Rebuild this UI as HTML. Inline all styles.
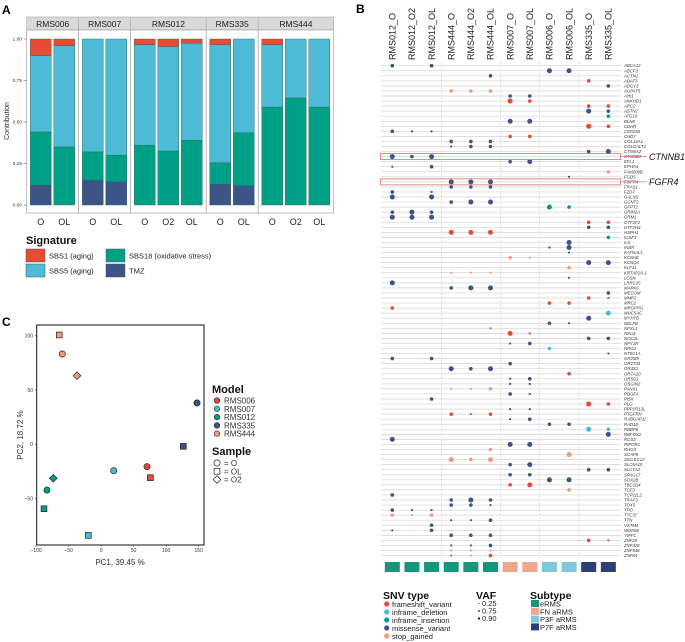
<!DOCTYPE html>
<html><head><meta charset="utf-8">
<style>
html,body{margin:0;padding:0;background:#fff;}
svg{display:block;font-family:"Liberation Sans",Arial,sans-serif;}
</style></head>
<body>
<svg id="fig" width="685" height="642" viewBox="0 0 685 642" xmlns="http://www.w3.org/2000/svg">
<text x="2" y="14" font-size="12" font-weight="bold">A</text>
<text x="356" y="13" font-size="12" font-weight="bold">B</text>
<text x="2" y="326" font-size="12" font-weight="bold">C</text>
<g id="pa"></g>
<g id="pb"></g>
<g id="pc"></g>
</svg>
<script>
// ---------- Panel A data ----------
const aModels=["RMS006","RMS007","RMS012","RMS335","RMS444"];
const aSamples=[["O","OL"],["O","OL"],["O","O2","OL"],["O","OL"],["O","O2","OL"]];
const aTMZ=[0.12,0,0.15,0.14,0,0,0,0.125,0.115,0,0,0];
const aSBS18=[0.32,0.35,0.17,0.16,0.36,0.325,0.39,0.13,0.32,0.59,0.645,0.59];
const aSBS5=[0.46,0.61,0.68,0.70,0.605,0.63,0.585,0.71,0.565,0.375,0.355,0.41];
const aSBS1=[0.10,0.04,0,0,0.035,0.045,0.025,0.035,0,0.035,0,0];
const aTicks=[0,0.25,0.5,0.75,1.0];
const aTickLabels=["0.00","0.25","0.50","0.75","1.00"];
// ---------- Panel B data ----------
const bSamples=["RMS012_O","RMS012_O2","RMS012_OL","RMS444_O","RMS444_O2","RMS444_OL","RMS007_O","RMS007_OL","RMS006_O","RMS006_OL","RMS335_O","RMS335_OL"];
const bSubtype=["e","e","e","e","e","e","fn","fn","p3","p3","p7","p7"];
const bGenes=["ABCA12","ABCF3","ACTN1","ADAT3","ADCY3","AGPAT5","AHI1","ANKHD1","ARC2","ASTN2","ATG10","BLNK","CDHR","CEP250","CHD7","COL14A1","COLGALT1","CTNNA2","CTNNB1","EFL1","EPHA4","FAM209B","FGD5","FGFR4","FRAS1","FZD7","GALNS","GCNT2","GFPT2","GRIN2A","GRM1","GTF2F2","GTF2H4","HSPH1","IGSF3","IL5","INSR","KATNAL1","KCNH8","KCNQ4","KLF11","KRTAP29-1","LGSN","LRRC25","MAPK6","MECOM","MMP2","MRC2","MRGPRG","MUC5AC","MYH7B","NELFB","NFXL1","NINJ1","NOC2L","NPY1R","NRG3","NT5C1A","OR2M5","OR2T34","OR4S1","OR7A10","OR5G1","OSGIN2","PANX1","PDGFA","PI5X","PLG","PPP1R13L","PTGFRN","RABGAP1L","RAD18","RBBP6","RBFOX2","RGS3","RIPOR1","RHG3","SCAP8","SIGLEC12","SLC6A15","SLC7A2","SPAG17","SOX2B","TBC1D4","TCF3","TCP11L2","TRAF3","TOX3","TPO","TTC37","TTN","VSTM4","WDR60","YIPF1","ZNF20","ZNF428","ZNF548","ZNF84"];
// per gene: "col type vaf" (type f/d/i/m/s, vaf 1=0.25,2=0.75,3=0.90)
const bCalls=["0m2 2m2","8m3 9m3","5m2","10f2","11m2","3s2 4s2 5s2","6m2 7m2","6f3 7f2","10f2 11f2","10m3 11m2","11i2","6m3 7m3","10f3 11f2","0m2 1m1 2m1","6f2 7f2","3m2 4m2 5m2","3m1 4m2 5m2","10m2 11m3","0m3 1m2 2m3","6m2 7m3","0m1 2m2","11s2","9m1","3m3 4m3 5m3","3m2 4m2 5m2","0m2 2m1","0m3 2m3","3m2 4m3 5m3","8i3 9i2","0m2 1m3 2m2","0m3 1m3 2m3","10f2 11f2","10m2 11m2","3f3 4f3 5f3","11i2","9m3","8m1 9m3","9m1","6s2 7s1","10m3 11m3","9s2","3s1 4s1 5s1","9m1","0m3","3m2 4m3 5m3","11m2","10f2 11f1","8f2 9f2","0f2","11d3","10m3","8m2 9m1","5f1","6f3 7f1","10m2 11m2","6m1 7m2","8d2","11m1","0m2 2m2","6m2","3m3 4m2 5m3","9f2","6m1 7m2","6m1 7m1","3s1 4s1 5s2","6m2 7m1","2m2","10f3 11f2","6m1 7m1","3f2 4f1 5f2","6m1 7m2","8m2 9m2","10d3 11d2","11m3","0m3","6m3 7m3","5s2","9s3","3s3 4s2 5s3","6m2 7m3","10m2 11m2","6m2 7m2","8m3 9m3","6f2 7f3","9s2","0m2","3m2 4m3 5m2","3m2 4m2 5m1","0m2 1m1 2m1","0s2 1s1 2s2","3m1 4m1 5m2","2m2","0m1 2m2","3m2 4m2 5m2","10f2 11f1","3m1 4m1 5m2","3s1 4s1 5s1","3f1 4s1 5f2"];
const bHighlight=["CTNNB1","FGFR4"];
// ---------- Panel C data ----------
const cModel=["RMS444","RMS444","RMS444","RMS335","RMS335","RMS006","RMS006","RMS007","RMS007","RMS012","RMS012","RMS012"];
const cSample=["OL","O","O2","O","OL","O","OL","O","OL","O2","O","OL"];
const cPC1=[-64.2,-59.6,-37,147.4,126.4,70.6,75.7,19.4,-19.6,-73.4,-83.1,-87.7];
const cPC2=[100.7,83.2,63.2,38.1,-1.8,-20.5,-30.6,-24.2,-83.7,-31.2,-42,-59.2];
const cXTicks=[-100,-50,0,50,100,150];
const cYTicks=[-50,0,50,100];

const NS="http://www.w3.org/2000/svg";
function mk(parent,tag,attrs,text){const e=document.createElementNS(NS,tag);for(const k in attrs)e.setAttribute(k,attrs[k]);if(text!==undefined)e.textContent=text;parent.appendChild(e);return e;}
const COL={SBS1:"#e64b35",SBS5:"#4dbbd5",SBS18:"#00a087",TMZ:"#3c5488"};
const MODELCOL={RMS006:"#e64b35",RMS007:"#4dbbd5",RMS012:"#00a087",RMS335:"#3c5488",RMS444:"#f39b7f"};

// ===== Panel A =====
(function(){
const g=document.getElementById('pa');
const top=30,bot=213,y1=39,y0=205;
const ys=v=>y0-(y1-y0)*-v;
const facetX=[26.7];const step=23.5,bw=21;
aSamples.forEach(s=>facetX.push(facetX[facetX.length-1]+s.length*step+5));
let idx=0;
aModels.forEach((m,fi)=>{
  const x0=facetX[fi],x1=facetX[fi+1];
  const strip=mk(g,'rect',{x:x0,y:17,width:x1-x0,height:13,fill:"#d9d9d9",stroke:"#aaa","stroke-width":0.6});
  
  
  const st=mk(g,'text',{x:(x0+x1)/2,y:27,"font-size":8.5,"text-anchor":"middle",fill:"#222"},m);
  
  
  const pan=mk(g,'rect',{x:x0,y:top,width:x1-x0,height:bot-top,fill:"#fff",stroke:"#999","stroke-width":0.6});
  
  
  aSamples[fi].forEach((s,si)=>{
    const bx=x0+3.6+si*step;
    let cum=0;
    [["TMZ",aTMZ],["SBS18",aSBS18],["SBS5",aSBS5],["SBS1",aSBS1]].forEach(([k,arr])=>{
      const v=arr[idx];if(v<=0)return;
      const r=mk(g,'rect',{x:bx,y:ys(cum+v),width:bw,height:ys(cum)-ys(cum+v),fill:COL[k],stroke:"#2f5f5a","stroke-width":0.4});
      
      
      cum+=v;
    });
    const xl=mk(g,'text',{x:bx+bw/2,y:225,"font-size":9,"text-anchor":"middle",fill:"#222"},s);
    
    
    idx++;
  });
});
aTicks.forEach((t,i)=>{
  const tl=mk(g,'text',{x:22,y:ys(t)+1.6,"font-size":4.8,"text-anchor":"end",fill:"#333"},aTickLabels[i]);
  
  
  mk(g,'line',{x1:23.5,x2:26.7,y1:ys(t),y2:ys(t),stroke:"#555","stroke-width":0.5});
});
const yt=mk(g,'text',{x:0,y:0,"font-size":7,"text-anchor":"middle",fill:"#222",transform:"translate(9,121) rotate(-90)"},"Contribution");


const lt=mk(g,'text',{x:26,y:244,"font-size":11,"font-weight":"bold",fill:"#111"},"Signature");


[["SBS1","SBS1 (aging)",26,249],["SBS5","SBS5 (aging)",26,264],["SBS18","SBS18 (oxidative stress)",106,249],["TMZ","TMZ",106,264]].forEach(([k,lab,x,y])=>{
  const r=mk(g,'rect',{x:x,y:y,width:19,height:13,fill:COL[k],stroke:"#555","stroke-width":0.5});
  
  
  const t=mk(g,'text',{x:x+23,y:y+9.5,"font-size":7.5,fill:"#222"},lab);
  
  
});
})();

// ===== Panel B =====
(function(){
const g=document.getElementById('pb');
const cx=i=>392.3+i*19.64;
const ry=i=>65.7+i*5.05;
const TC={f:"#e64b35",d:"#4dbbd5",i:"#00a087",m:"#3c5488",s:"#f39b7f"};
const SZ={1:1.1,2:1.8,3:2.5};
const SUBC={e:"#14977a",fn:"#f0a58d",p3:"#7ec8dc",p7:"#2e3f73"};
bGenes.forEach((gn,i)=>{
  const l=mk(g,'line',{x1:381,x2:621,y1:ry(i),y2:ry(i),stroke:"#d4d4d4","stroke-width":0.7});
  
  
  const t=mk(g,'text',{x:624,y:ry(i)+1.5,"font-size":4.3,"font-style":"italic",fill:"#333"},gn);
  
  
});
[441.3,500.7,539.7,579].forEach(x=>{
  const l=mk(g,'line',{x1:x,x2:x,y1:62,y2:558,stroke:"#ccc","stroke-width":0.6,"stroke-dasharray":"2,1.5"});
  
  
});
bSamples.forEach((s,i)=>{
  const t=mk(g,'text',{x:0,y:0,"font-size":9,fill:"#222",transform:`translate(${cx(i)+3.2},60) rotate(-90)`},s);
  
  
  const r=mk(g,'rect',{x:cx(i)-7.5,y:562,width:15,height:10,fill:SUBC[bSubtype[i]]});
  
  
});
bCalls.forEach((str,i)=>{
  str.split(' ').forEach(c=>{
    const m=c.match(/(\d+)([fdims])(\d)/);if(!m)return;
    const d=mk(g,'circle',{cx:cx(+m[1]),cy:ry(i),r:SZ[m[3]],fill:TC[m[2]]});
    
    
  });
});
bHighlight.forEach(h=>{
  const i=bGenes.indexOf(h);
  const r=mk(g,'rect',{x:380.5,y:ry(i)-3,width:240,height:6,fill:"none",stroke:"#e07070","stroke-width":0.8});
  
  
  mk(g,'line',{x1:620.5,x2:647,y1:ry(i),y2:ry(i),stroke:"#e07070","stroke-width":0.7});
  const t=mk(g,'text',{x:649,y:ry(i)+3.3,"font-size":9,"font-style":"italic",fill:"#111"},h);
  
  
});
// legends
const t1=mk(g,'text',{x:383,y:599,"font-size":10.5,"font-weight":"bold",fill:"#111"},"SNV type");


[["f","frameshift_variant"],["d","inframe_deletion"],["i","inframe_insertion"],["m","missense_variant"],["s","stop_gained"]].forEach(([k,lab],j)=>{
  const y=604+j*8;
  mk(g,'circle',{cx:386.7,cy:y,r:2.6,fill:TC[k]});
  const t=mk(g,'text',{x:392,y:y+2.8,"font-size":7.5,fill:"#222"},lab);
  
  
});
const t2=mk(g,'text',{x:476,y:599,"font-size":10.5,"font-weight":"bold",fill:"#111"},"VAF");


[["0.25",0.5],["0.75",0.9],["0.90",1.1]].forEach(([lab,r],j)=>{
  const y=603.5+j*7.5;
  mk(g,'circle',{cx:479,cy:y,r:r,fill:"#111"});
  const t=mk(g,'text',{x:482,y:y+2.7,"font-size":7.5,fill:"#222"},lab);
  
  
});
const t3=mk(g,'text',{x:530,y:599,"font-size":10.5,"font-weight":"bold",fill:"#111"},"Subtype");


[["e","eRMS"],["fn","FN aRMS"],["p3","P3F aRMS"],["p7","P7F aRMS"]].forEach(([k,lab],j)=>{
  const y=600+j*7.8;
  mk(g,'rect',{x:531,y:y,width:8,height:7,fill:SUBC[k]});
  const t=mk(g,'text',{x:540,y:y+6.5,"font-size":7.5,fill:"#222"},lab);
  
  
});
})();

// ===== Panel C =====
(function(){
const g=document.getElementById('pc');
const xs=v=>36+(v+100)*0.6508;
const ys=v=>444.4-v*1.0867;
const box=mk(g,'rect',{x:36.7,y:325,width:167.3,height:220,fill:"#fff",stroke:"#111","stroke-width":1});


cXTicks.forEach(t=>{
  mk(g,'line',{x1:xs(t),x2:xs(t),y1:545,y2:547,stroke:"#333","stroke-width":0.5});
  const l=mk(g,'text',{x:xs(t),y:552,"font-size":5,"text-anchor":"middle",fill:"#333"},t<0?"\u2212"+(-t):String(t));
  
  
});
cYTicks.forEach(t=>{
  mk(g,'line',{x1:34.7,x2:36.7,y1:ys(t),y2:ys(t),stroke:"#333","stroke-width":0.5});
  const l=mk(g,'text',{x:33,y:ys(t)+1.7,"font-size":5,"text-anchor":"end",fill:"#333"},t<0?"\u2212"+(-t):String(t));
  
  
});
const xt=mk(g,'text',{x:120,y:565,"font-size":8,"text-anchor":"middle",fill:"#333"},"PC1,  39.45 %");


const yt=mk(g,'text',{x:0,y:0,"font-size":8,"text-anchor":"middle",fill:"#333",transform:"translate(23,435) rotate(-90)"},"PC2,  18.72 %");


function shape(x,y,s,fill,name){
  let e;
  if(s==="O")e=mk(g,'circle',{cx:x,cy:y,r:3.1,fill:fill,stroke:"#222","stroke-width":0.7});
  else if(s==="OL")e=mk(g,'rect',{x:x-2.9,y:y-2.9,width:5.8,height:5.8,fill:fill,stroke:"#222","stroke-width":0.7});
  else e=mk(g,'polygon',{points:`${x},${y-3.8} ${x+3.8},${y} ${x},${y+3.8} ${x-3.8},${y}`,fill:fill,stroke:"#222","stroke-width":0.7});
  
  
  return e;
}
cPC1.forEach((v,i)=>{
  shape(xs(v),ys(cPC2[i]),cSample[i],MODELCOL[cModel[i]],'point-'+cModel[i].toLowerCase()+'-'+cSample[i].toLowerCase());
});
const lt=mk(g,'text',{x:212,y:393,"font-size":11,"font-weight":"bold",fill:"#111"},"Model");


Object.keys(MODELCOL).forEach((m,j)=>{
  const y=400.5+j*8.3;
  mk(g,'circle',{cx:217,cy:y,r:2.8,fill:MODELCOL[m],stroke:"#222","stroke-width":0.6});
  const t=mk(g,'text',{x:224,y:y+3,"font-size":8,fill:"#333"},m);
  
  
});
const st=mk(g,'text',{x:212,y:455,"font-size":11,"font-weight":"bold",fill:"#111"},"Sample");


[["O","= O"],["OL","= OL"],["O2","= O2"]].forEach(([s,lab],j)=>{
  const y=463+j*8.3;
  shape(217,y,s,"#fff",'legend-shape-'+s.toLowerCase());
  const t=mk(g,'text',{x:224,y:y+3,"font-size":8,fill:"#333"},lab);
  
  
});
})();
</script>
</body></html>
